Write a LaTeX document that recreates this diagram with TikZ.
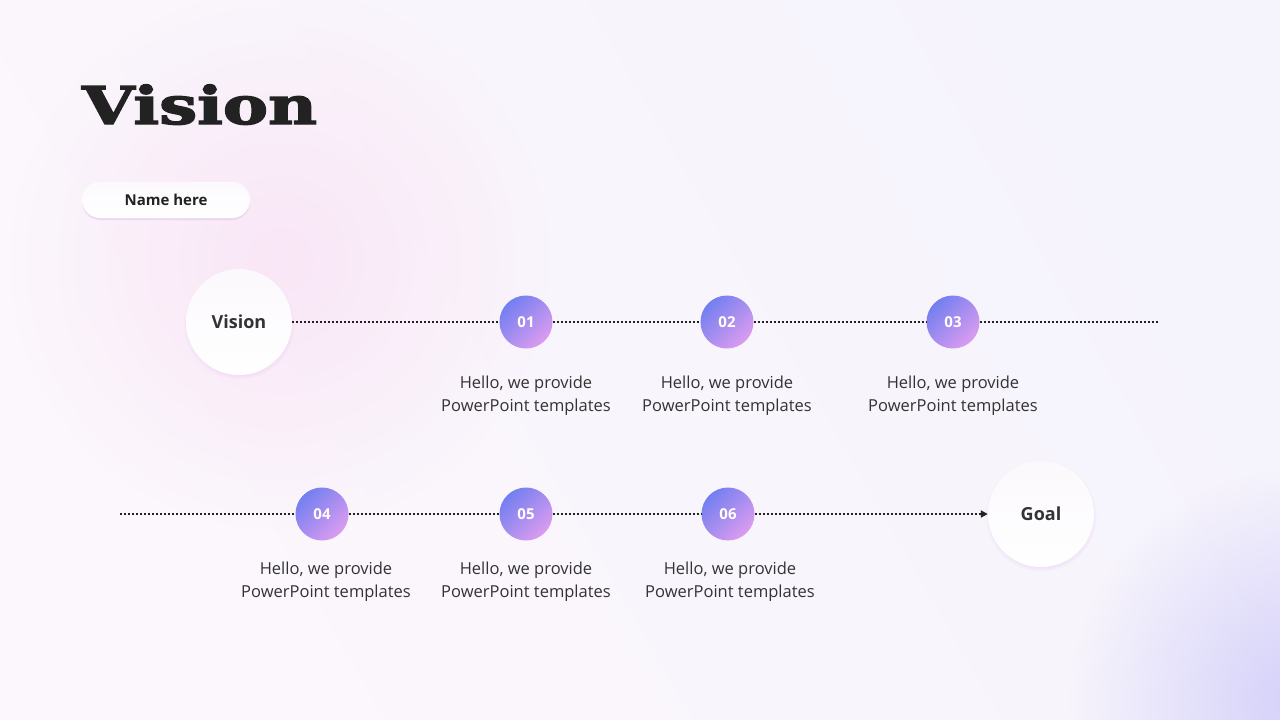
\documentclass[tikz,border=0pt]{standalone}
\usepackage{fontspec}
\setmainfont{Open Sans}
\newfontfamily\titlefont[BoldFeatures={FakeBold=2.5}]{DejaVu Serif}
\usetikzlibrary{shadows,fadings,arrows.meta}
\tikzfading[name=radfade, inner color=transparent!0, outer color=transparent!100]
\definecolor{bgA}{HTML}{FCF7FC}
\definecolor{bgB}{HTML}{F5F3FC}
\definecolor{glow}{HTML}{F9E2F5}
\definecolor{corner}{HTML}{D4D0FA}
\definecolor{gradA}{HTML}{737FF0}
\definecolor{gradB}{HTML}{DB9CF0}
\definecolor{txt}{HTML}{333333}
\definecolor{dark}{HTML}{222222}
\definecolor{shade}{HTML}{E3C8EE}
\tikzset{
  bigcirc/.style={circle, minimum size=106pt, inner sep=0pt, top color=white!88!shade, bottom color=white,
    circular drop shadow={shadow xshift=0pt, shadow yshift=-2pt, shadow scale=1.05, fill=shade, opacity=.6},
    font=\fontsize{18}{20}\selectfont\bfseries, text=txt},
  stepcirc/.style={circle, minimum size=53pt, inner sep=0pt, shading=axis, left color=gradA, right color=gradB, shading angle=45,
    font=\fontsize{15}{16}\selectfont\bfseries, text=white},
  desc/.style={align=center, font=\fontsize{16.5}{23}\selectfont, text=txt},
  dotline/.style={line width=2pt, dash pattern=on 2pt off 2pt, dark}
}
\begin{document}
\begin{tikzpicture}[x=1pt,y=-1pt]
\useasboundingbox (0,0) rectangle (1280,720);
\shade[left color=bgA, right color=bgB, shading angle=120] (0,0) rectangle (1280,720);
\begin{scope}
\clip (0,0) rectangle (1280,720);
\fill[glow, path fading=radfade, opacity=.8] (280,260) circle (270);
\fill[corner, path fading=radfade] (1300,700) circle (230);
\end{scope}
% title
\node[anchor=base west, inner sep=0pt, text=dark] (title) at (82,124) {\scalebox{1.3}[1]{\titlefont\fontsize{52}{56}\selectfont\bfseries Vision}};
% name pill
\node[rounded corners=18pt, minimum width=168pt, minimum height=36pt, top color=white!90!shade, bottom color=white,
  drop shadow={shadow xshift=0pt, shadow yshift=-2pt, fill=shade, opacity=.6},
  font=\fontsize{15}{16}\selectfont\bfseries, text=dark] (name) at (166,200) {Name here};
% big circles
\node[bigcirc] (vision) at (239,322) {Vision};
\node[bigcirc] (goal) at (1041,514) {Goal};
% step circles
\node[stepcirc] (s1) at (526,322) {01};
\node[stepcirc] (s2) at (727,322) {02};
\node[stepcirc] (s3) at (953,322) {03};
\node[stepcirc] (s4) at (322,514) {04};
\node[stepcirc] (s5) at (526,514) {05};
\node[stepcirc] (s6) at (728,514) {06};
\coordinate (end1) at (1158,322);
\coordinate (start2) at (120,514);
% connectors
\draw[dotline] (vision) -- (s1);
\draw[dotline] (s1) -- (s2);
\draw[dotline] (s2) -- (s3);
\draw[dotline] (s3) -- (end1);
\draw[dotline] (start2) -- (s4);
\draw[dotline] (s4) -- (s5);
\draw[dotline] (s5) -- (s6);
\draw[dotline, -{Triangle[length=7pt,width=7pt]}] (s6) -- (goal);
% descriptions
\node[desc] (d1) at (526,396) {Hello, we provide\\PowerPoint templates};
\node[desc] (d2) at (727,396) {Hello, we provide\\PowerPoint templates};
\node[desc] (d3) at (953,396) {Hello, we provide\\PowerPoint templates};
\node[desc] (d4) at (326,582) {Hello, we provide\\PowerPoint templates};
\node[desc] (d5) at (526,582) {Hello, we provide\\PowerPoint templates};
\node[desc] (d6) at (730,582) {Hello, we provide\\PowerPoint templates};
\end{tikzpicture}
\end{document}
